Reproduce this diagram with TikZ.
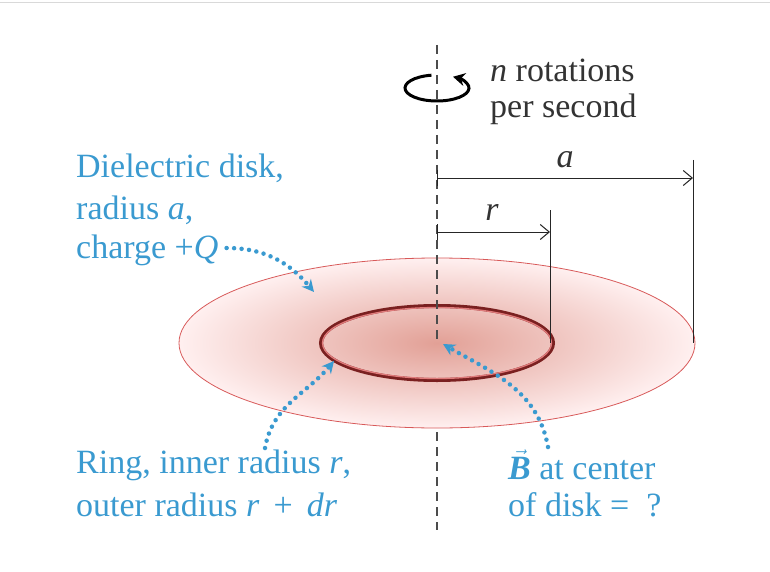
\documentclass[tikz,border=0pt]{standalone}
\usepackage{fontspec}
\setmainfont{Liberation Serif}
\usetikzlibrary{arrows.meta,shapes.geometric}
\definecolor{lblue}{HTML}{3A9AD0}
\definecolor{dred}{HTML}{7A2020}
\definecolor{rred}{HTML}{D85A5A}
\tikzset{lbl/.style={text=lblue,font=\fontsize{34}{40}\selectfont,anchor=west,inner sep=0pt},
blk/.style={text=black!80,font=\fontsize{34}{40}\selectfont,inner sep=0pt},
dot/.style={lblue,line width=4.5pt,dash pattern=on 0pt off 7.5pt,line cap=round,-{Stealth[length=12pt,width=12pt]}},
dim/.style={gray!30!black,line width=1pt}}
\begin{document}
\begin{tikzpicture}[x=1pt,y=-1pt]
\useasboundingbox (0,0) rectangle (770,572);
\draw[gray!30] (0,2) -- (770,2);
% disk
\shade[outer color=red!6, draw=rred, line width=0.8pt, inner color={rgb,255:red,226;green,160;blue,150}] (437,343) ellipse [x radius=258, y radius=85];
\draw[dred, line width=4pt] (437,343) ellipse [x radius=116, y radius=37];
\draw[rred!80, line width=1.3pt] (437,343) ellipse [x radius=114.5, y radius=35.5];
% axis
\draw[black!70, line width=1.2pt, dash pattern=on 9pt off 6pt] (437,45) -- (437,343);
\draw[black!70, line width=1.2pt, dash pattern=on 9pt off 6pt] (437,432) -- (437,530);
% rotation arrow
\draw[black, line width=3pt, -{Stealth[length=12pt,width=13pt]}] (437,88) ++(-100:32 and 13) arc[start angle=-100, end angle=-420, x radius=32, y radius=13];
\node[blk, anchor=west] (n1) at (490,70) {\textit{n} rotations};
\node[blk, anchor=west] (n2) at (490,109) {per second};
% dims
\coordinate (o1) at (437,178); \coordinate (e1) at (693,178);
\coordinate (o2) at (437,232); \coordinate (e2) at (550,232);
\draw[dim] (693,160) -- (693,343);
\draw[dim] (550,210) -- (550,343);
\draw[dim, -{Straight Barb[length=9pt,width=15pt]}] (o1) -- (e1);
\draw[dim, -{Straight Barb[length=9pt,width=15pt]}] (o2) -- (e2);
\draw[dim] (437,170) -- (437,186);
\draw[dim] (437,224) -- (437,240);
\node[blk] (la) at (565,160) {\textit{a}};
\node[blk] (lr) at (492,212) {\textit{r}};
% labels
\node[lbl] (d1) at (76,168) {Dielectric disk,};
\node[lbl] (d2) at (76,210) {radius \textit{a},};
\node[lbl] (d3) at (76,250) {charge +\textit{Q}};
\node[lbl] (r1) at (76,465) {Ring, inner radius \textit{r},};
\node[lbl] (r2) at (76,505) {outer radius \textit{r}\,\ +\ \,\textit{dr}};
\node[lbl] (b1) at (508,465) {$\vec{\textbf{\textit{B}}}$ at center};
\node[lbl] (b2) at (508,505) {of disk\ = \ ?};
\draw[dot] (d3.east) ++(8,-2) to[out=0,in=130] (314,292);
\draw[dot] (265,448) to[out=80,in=-130] (334,361);
\draw[dot] (548,447) to[out=100,in=-30] (443,344);
\end{tikzpicture}
\end{document}
